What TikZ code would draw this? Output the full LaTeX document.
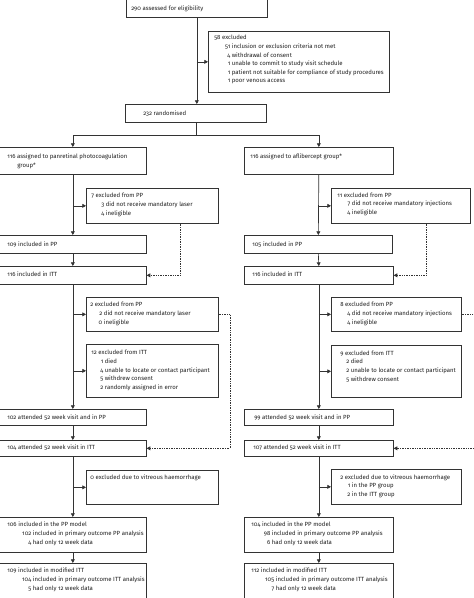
\documentclass[tikz,border=0pt]{standalone}
\usepackage{fontspec}
\setmainfont{Fira Sans}[Numbers=OldStyle]
\usetikzlibrary{arrows.meta}
\definecolor{txt}{HTML}{1E1E1E}
\definecolor{ln}{HTML}{333333}
\newcommand{\sub}[3][12pt]{\makebox[#1][r]{#2}\ #3}
% name, x, y, w, h, padx, first baseline, text
\newcommand{\flowbox}[8]{\node[bx, minimum width=#4pt, minimum height=#5pt] (#1) at (#2,#3)
  {\parbox[c][#5pt][t]{#4pt}{\hspace*{#6pt}\rule{0pt}{#7pt}\begin{tabular}[t]{@{}l@{}}#8\end{tabular}}};}
\begin{document}
\begin{tikzpicture}[x=1pt, y=-1pt,
  font=\fontsize{6}{8.6}\selectfont,
  bx/.style={draw=ln, line width=0.65pt, inner sep=0pt, anchor=north west, text=txt},
  arr/.style={draw=ln, line width=0.65pt, -{Triangle[length=3.6pt,width=3.8pt]}},
  plain/.style={draw=ln, line width=0.65pt},
  dotarr/.style={draw=ln, line width=0.6pt, dash pattern=on 0.7pt off 1pt, -{Triangle[length=3.6pt,width=3.8pt]}}]
\useasboundingbox (0,0) rectangle (474,598);

% top
\flowbox{elig}{126}{-1}{141}{18}{5}{11.5}{290 assessed for eligibility}
\flowbox{excl}{208}{31}{181}{61}{6}{8.5}{58 excluded\\
  \sub[16pt]{51}{inclusion or exclusion criteria not met}\\
  \sub[16pt]{4}{withdrawal of consent}\\
  \sub[16pt]{1}{unable to commit to study visit schedule}\\
  \sub[16pt]{1}{patient not suitable for compliance of study procedures}\\
  \sub[16pt]{1}{poor venous access}}
\flowbox{rand}{125}{104}{141}{18}{18}{11}{232 randomised}

% left column
\flowbox{L1}{-1}{147}{147}{27}{8}{11.5}{116 assigned to panretinal photocoagulation\\ \hspace*{10pt}group*}
\flowbox{LE1}{86}{188}{132}{35}{5}{9.5}{7 excluded from PP\\
  \sub[13pt]{3}{did not receive mandatory laser}\\
  \sub[13pt]{4}{ineligible}}
\flowbox{L2}{-1}{235}{147}{18}{8}{11.5}{109 included in PP}
\flowbox{L3}{-1}{266}{147}{18}{8}{10.5}{116 included in ITT}
\flowbox{LE2}{86}{297}{132}{34}{4}{9.5}{2 excluded from PP\\
  \sub[12pt]{2}{did not receive mandatory laser}\\
  \sub[12pt]{0}{ineligible}}
\flowbox{LE3}{86}{344}{132}{53}{5}{10.5}{12 excluded from ITT\\
  \sub[12pt]{1}{died}\\
  \sub[12pt]{4}{unable to locate or contact participant}\\
  \sub[12pt]{5}{withdrew consent}\\
  \sub[12pt]{2}{randomly assigned in error}}
\flowbox{L4}{-1}{409}{147}{16}{8}{10.5}{102 attended 52 week visit and in PP}
\flowbox{L5}{-1}{440}{147}{16}{8}{9.5}{104 attended 52 week visit in ITT}
\flowbox{LE4}{86}{470}{132}{34}{4}{9.5}{0 excluded due to vitreous haemorrhage}
\flowbox{L6}{-1}{517}{147}{35}{8}{9.5}{106 included in the PP model\\
  \sub[24pt]{102}{included in primary outcome PP analysis}\\
  \sub[24pt]{4}{had only 12 week data}}
\flowbox{L7}{-1}{563}{147}{42}{8}{9.5}{109 included in modified ITT\\
  \sub[24pt]{104}{included in primary outcome ITT analysis}\\
  \sub[24pt]{5}{had only 12 week data}}

% right column
\flowbox{R1}{244}{147}{149}{27}{6}{11.5}{116 assigned to aflibercept group*}
\flowbox{RE1}{331}{188}{139}{35}{6}{9}{11 excluded from PP\\
  \sub[13pt]{7}{did not receive mandatory injections}\\
  \sub[13pt]{4}{ineligible}}
\flowbox{R2}{244}{235}{148}{18}{8}{11.5}{105 included in PP}
\flowbox{R3}{244}{266}{149}{18}{8}{10.5}{116 included in ITT}
\flowbox{RE2}{331}{297}{130}{34}{9}{9.5}{8 excluded from PP\\
  \sub[10pt]{4}{did not receive mandatory injections}\\
  \sub[10pt]{4}{ineligible}}
\flowbox{RE3}{331}{345}{130}{52}{9}{10}{9 excluded from ITT\\
  \sub[9pt]{2}{died}\\
  \sub[9pt]{2}{unable to locate or contact participant}\\
  \sub[9pt]{5}{withdrew consent}}
\flowbox{R4}{244}{409}{149}{16}{10}{10.5}{99 attended 52 week visit and in PP}
\flowbox{R5}{244}{440}{149}{16}{9}{9.5}{107 attended 52 week visit in ITT}
\flowbox{RE4}{331}{469}{130}{35}{9}{10}{2 excluded due to vitreous haemorrhage\\
  \sub[10pt]{1}{in the PP group}\\
  \sub[10pt]{2}{in the ITT group}}
\flowbox{R6}{244}{517}{149}{35}{7}{9.5}{104 included in the PP model\\
  \sub[19pt]{98}{included in primary outcome PP analysis}\\
  \sub[19pt]{6}{had only 12 week data}}
\flowbox{R7}{244}{563}{149}{42}{7}{9.5}{112 included in modified ITT\\
  \sub[23pt]{105}{included in primary outcome ITT analysis}\\
  \sub[23pt]{7}{had only 12 week data}}

% connectors top
\draw[arr] (elig.south) -- (elig.south |- rand.north);
\draw[arr] (elig.south |- excl.west) -- (excl.west);
\path (rand.south) ++(0,13) coordinate (br);
\draw[plain] (rand.south) -- (br);
\draw[arr] (br) -| (L1.north);
\draw[arr] (br) -| (R1.north);

% left chain
\draw[arr] (L1.south) -- (L2.north);
\draw[arr] (L1.south |- LE1.west) -- (LE1.west);
\draw[arr] (L2.south) -- (L3.north);
\draw[arr] (L3.south) -- (L4.north);
\draw[arr] (L3.south |- LE2.west) -- (LE2.west);
\draw[arr] (L3.south |- LE3.west) -- (LE3.west);
\draw[arr] (L4.south) -- (L5.north);
\draw[arr] (L5.south) -- (L6.north);
\draw[arr] (L5.south |- LE4.west) -- (LE4.west);
\draw[arr] (L6.south) -- (L7.north);

% right chain
\draw[arr] (R1.south) -- (R2.north);
\draw[arr] (R1.south |- RE1.west) -- (RE1.west);
\draw[arr] (R2.south) -- (R3.north);
\draw[arr] (R3.south) -- (R4.north);
\draw[arr] (R3.south |- RE2.west) -- (RE2.west);
\draw[arr] (R3.south |- RE3.west) -- (RE3.west);
\draw[arr] (R4.south) -- (R5.north);
\draw[arr] (R5.south) -- (R6.north);
\draw[arr] (R5.south |- RE4.west) -- (RE4.west);
\draw[arr] (R6.south) -- (R7.north);

% dotted feedback
\coordinate (dA) at (180,0);
\coordinate (dB) at (426,0);
\coordinate (dC) at (230,0);
\coordinate (dD) at (478,0);
\draw[dotarr] (LE1.south -| dA) -- (dA |- L3.east) -- (L3.east);
\draw[dotarr] (RE1.south -| dB) -- (dB |- R3.east) -- (R3.east);
\draw[dotarr] (LE2.east) -- (LE2.east -| dC) -- (dC |- L5.east) -- (L5.east);
\draw[dotarr] (RE2.east) -- (RE2.east -| dD) -- (dD |- R5.east) -- (R5.east);
\end{tikzpicture}
\end{document}
